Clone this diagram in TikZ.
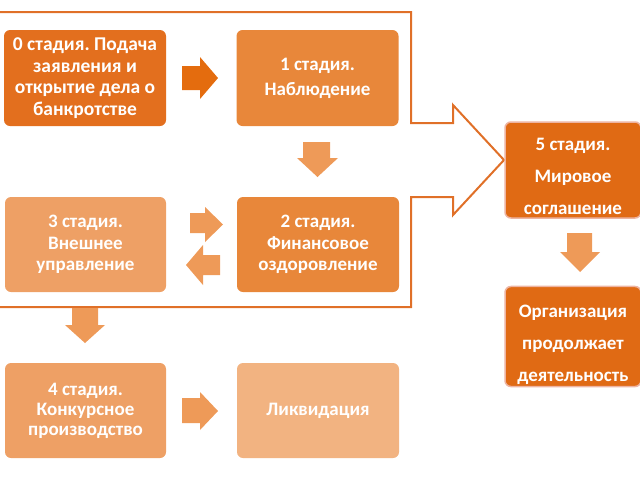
\documentclass[tikz,border=0pt]{standalone}
\usepackage{fontspec}
\setmainfont{Carlito}
\frenchspacing
\definecolor{cA}{HTML}{E36F1E}
\definecolor{cB}{HTML}{E8873A}
\definecolor{cC}{HTML}{EEA065}
\definecolor{cD}{HTML}{F2B381}
\definecolor{cE}{HTML}{E06A14}
\definecolor{arr}{HTML}{EE9A58}
\definecolor{arrD}{HTML}{E46C0E}
\definecolor{line}{HTML}{E07028}
\definecolor{rim}{HTML}{EDB4A2}
\tikzset{
  box/.style={rounded corners=6pt, minimum width=162pt, minimum height=96pt,
    align=center, text=white, font=\bfseries\fontsize{19}{21.5}\selectfont, inner sep=2pt},
  rbox/.style={box, minimum width=136pt, draw=rim, line width=1.5pt,
    font=\bfseries\fontsize{19}{32}\selectfont},
  blk/.style={fill=arr},
}
\begin{document}
\begin{tikzpicture}[x=1pt,y=-1pt]
\useasboundingbox (0,0) rectangle (640,480);
% outline big arrow
\draw[line, line width=2pt, line join=miter] (0,12) -- (411,12) -- (411,123) -- (453,123) -- (453,105) -- (504,160) -- (453,215) -- (453,197) -- (411,197) -- (411,307) -- (0,307);
% boxes
\node[box, fill=cA, font=\bfseries\fontsize{19.5}{21.5}\selectfont] (s0) at (85,78) {0 стадия. Подача\\заявления и\\открытие дела о\\банкротстве};
\node[box, fill=cB, font=\bfseries\fontsize{19}{25}\selectfont] (s1) at (317.5,78) {1 стадия.\\Наблюдение};
\node[box, fill=cB, minimum height=95pt] (s2) at (318,244.5) {2 стадия.\\Финансовое\\оздоровление};
\node[box, fill=cC, minimum height=95pt, minimum width=161pt] (s3) at (85.5,244.5) {3 стадия.\\Внешнее\\управление};
\node[box, fill=cC, minimum height=95pt, minimum width=161pt, font=\bfseries\fontsize{19}{20}\selectfont] (s4) at (85.5,410.5) {4 стадия.\\Конкурсное\\производство};
\node[box, fill=cD, minimum height=95pt] (liq) at (318,410.5) {Ликвидация};
\node[rbox, fill=cE] (s5) at (573,170) {\rule{0pt}{25pt}5 стадия.\\Мировое\\соглашение};
\node[rbox, fill=cE, minimum height=97pt] (org) at (573,336.5) {\rule{0pt}{29pt}Организация\\продолжает\\деятельность};
% block arrows
\fill[arrD] (182,66) -- (200,66) -- (200,57) -- (218,78) -- (200,99) -- (200,90) -- (182,90) -- cycle;
\fill[blk] (303,142) -- (330,142) -- (330,158) -- (338,158) -- (317.5,177) -- (297,158) -- (303,158) -- cycle;
\fill[blk] (190,213) -- (205,213) -- (205,207) -- (223,224.5) -- (205,242) -- (205,233) -- (190,233) -- cycle;
\fill[blk] (220,255) -- (203,255) -- (203,245) -- (186,265) -- (203,285) -- (203,275) -- (220,275) -- cycle;
\fill[blk] (72,308) -- (98,308) -- (98,325) -- (105,325) -- (85,343) -- (65,325) -- (72,325) -- cycle;
\fill[blk] (182,398) -- (200,398) -- (200,392) -- (218,411) -- (200,430) -- (200,423) -- (182,423) -- cycle;
\fill[blk] (567,233) -- (592,233) -- (592,252) -- (600,252) -- (580,272) -- (560,252) -- (567,252) -- cycle;
\end{tikzpicture}
\end{document}
